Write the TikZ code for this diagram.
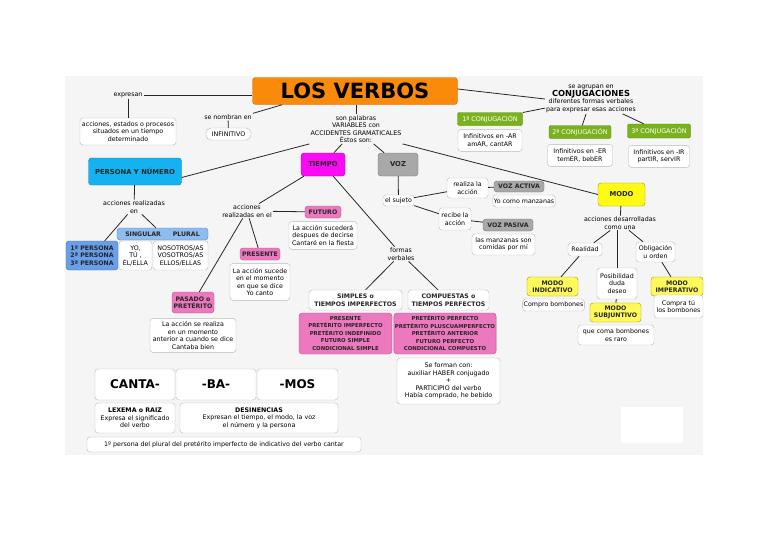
\documentclass[tikz,border=0pt]{standalone}
\usepackage{fontspec}
\setmainfont{DejaVu Sans}
\usepackage{tikz}
\usetikzlibrary{positioning, calc}
\definecolor{panelgray}{RGB}{245,245,245}
\definecolor{verbosorange}{RGB}{250,138,10}
\definecolor{pnblue}{RGB}{20,178,240}
\definecolor{singblue}{RGB}{140,188,240}
\definecolor{perblue}{RGB}{105,158,232}
\definecolor{tiempomag}{RGB}{250,10,245}
\definecolor{vozgray}{RGB}{168,168,168}
\definecolor{tpink}{RGB}{236,120,190}
\definecolor{modoyellow}{RGB}{255,250,20}
\definecolor{subyellow}{RGB}{255,250,90}
\definecolor{conjgreen}{RGB}{122,178,30}

\begin{document}
\begin{tikzpicture}[
    x=1pt, y=-1pt,
    conn/.style={draw=black!85, line width=0.8pt},
    lbl/.style={align=center, inner sep=1pt, font=\fontsize{6.3}{7.5}\selectfont},
    wbox/.style={rectangle, rounded corners=3pt, draw=gray!55, fill=white, align=center, inner sep=1pt, font=\fontsize{6.3}{7.5}\selectfont},
    bwbox/.style={wbox, font=\bfseries\fontsize{6.2}{7.6}\selectfont, text=black!85},
    head/.style={rectangle, rounded corners=3pt, align=center, inner sep=1pt, font=\bfseries\fontsize{6.8}{8}\selectfont, text=black!85},
    titlebox/.style={rectangle, rounded corners=3pt, draw=verbosorange!80!black, fill=verbosorange, font=\bfseries\fontsize{21}{24}\selectfont, minimum width=205, minimum height=27},
    pinkbox/.style={head, draw=tpink!75!black, fill=tpink, font=\bfseries\fontsize{6.2}{7.4}\selectfont},
    listbox/.style={head, draw=tpink!75!black, fill=tpink, font=\bfseries\fontsize{5.4}{7.5}\selectfont, minimum height=41},
    vozsmall/.style={head, draw=vozgray!70!black, fill=vozgray, font=\bfseries\fontsize{6.2}{7.4}\selectfont},
    modosub/.style={head, draw=modoyellow!60!black, fill=subyellow, font=\bfseries\fontsize{6.2}{7.4}\selectfont, minimum height=19},
    conjbox/.style={rectangle, rounded corners=2pt, draw=conjgreen!75!black, fill=conjgreen, text=white, font=\fontsize{6.4}{7.5}\selectfont, inner sep=1pt},
    bigbox/.style={wbox, font=\bfseries\fontsize{12}{14}\selectfont, minimum height=31}
]
    \useasboundingbox (0,0) rectangle (768,543);
    \fill[panelgray] (65,76) rectangle (703,455);
    \fill[white] (621,407) rectangle (683,443);

    % titulo
    \node[titlebox] (verbos) at (355,91) {LOS VERBOS};

    \node[lbl] (expresan) at (128,95) {expresan};
    \node[wbox, minimum width=96, minimum height=27] (acciones) at (128,131.5) {acciones, estados o procesos\\situados en un tiempo\\determinado};
    \draw[conn] (expresan) -- (expresan -| verbos.west);
    \draw[conn] (expresan) -- (acciones);

    \node[lbl] (nombran) at (228,117) {se nombran en};
    \node[wbox, rounded corners=5pt, minimum width=45, minimum height=12] (infinitivo) at (228.5,134) {INFINITIVO};
    \draw[conn] (nombran.north east) -- ([xshift=30pt]verbos.south west);
    \draw[conn] (nombran) -- (infinitivo);

    \node[lbl] (variables) at (356,129) {son palabras\\VARIABLES con\\ACCIDENTES GRAMATICALES\\Éstos son:};
    \draw[conn] (verbos.south -| variables) -- (variables);

    % conjugaciones
    \node[lbl] (conjug) at (591,99) {se agrupan en\\{\bfseries\fontsize{8.3}{9}\selectfont CONJUGACIONES}\\diferentes formas verbales\\para expresar esas acciones};
    \draw[conn] ([yshift=2pt]verbos.east) -- (conjug.west);
    \node[conjbox, minimum width=65, minimum height=13] (conj1) at (490,119) {1ª CONJUGACIÓN};
    \node[conjbox, minimum width=62, minimum height=13] (conj2) at (580,132) {2ª CONJUGACIÓN};
    \node[conjbox, minimum width=63, minimum height=14] (conj3) at (659,131) {3ª CONJUGACIÓN};
    \draw[conn] (conjug) -- (conj1);
    \draw[conn] (conjug) -- (conj2);
    \draw[conn] (conjug) -- (conj3);
    \node[wbox, minimum width=64, minimum height=22, below=3.5pt of conj1] (ar) {Infinitivos en -AR\\amAR, cantAR};
    \node[wbox, minimum width=65, minimum height=22, below=5.5pt of conj2] (er) {Infinitivos en -ER\\temER, bebER};
    \node[wbox, minimum width=61, minimum height=22, below=7pt of conj3] (ir) {Infinitivos en -IR\\partIR, servIR};

    % persona y numero
    \node[head, draw=pnblue!75!black, fill=pnblue, minimum width=93, minimum height=27] (persona) at (135,171.5) {PERSONA Y NÚMERO};
    \draw[conn] (variables.south west) -- ([yshift=-6pt]persona.east);
    \node[lbl] (realizadas) at (134,207) {acciones realizadas\\en};
    \draw[conn] (persona) -- (realizadas);
    \node[head, draw=singblue!70!black, fill=singblue, font=\bfseries\fontsize{6.2}{7.4}\selectfont, minimum width=91, minimum height=12] (singplur) at (162.5,234) {SINGULAR\hspace{12pt}PLURAL};
    \node[head, draw=perblue!70!black, fill=perblue, font=\bfseries\fontsize{6.2}{7.6}\selectfont, minimum width=52, minimum height=29] (personas) at (92,255.5) {1ª PERSONA\\2ª PERSONA\\3ª PERSONA};
    \node[wbox, minimum width=33, minimum height=29] (yo) at (135.5,255.5) {YO,\\TÚ ,\\ÉL/ELLA};
    \node[wbox, minimum width=55, minimum height=29] (nosotros) at (180.5,255.5) {NOSOTROS/AS\\VOSOTROS/AS\\ELLOS/ELLAS};
    \draw[conn] (realizadas) -- (personas);
    \draw[conn] (realizadas) -- (singplur);

    % tiempo
    \node[head, draw=tiempomag!70!black, fill=tiempomag, minimum width=44, minimum height=23] (tiempo) at (323,164.5) {TIEMPO};
    \draw[conn] (variables) -- (tiempo);
    \node[lbl] (realizadasel) at (247,211) {acciones\\realizadas en el};
    \draw[conn] (tiempo) -- (realizadasel);
    \node[pinkbox, minimum width=36, minimum height=12] (futuro) at (323,212) {FUTURO};
    \node[wbox, minimum width=68, minimum height=28, below=3pt of futuro] (futurotxt) {La acción sucederá\\despues de decirse\\Cantaré en la fiesta};
    \node[pinkbox, minimum width=40, minimum height=12] (presente) at (260,254) {PRESENTE};
    \node[wbox, minimum width=60, minimum height=37, below=3pt of presente] (presentetxt) {La acción sucede\\en el momento\\en que se dice\\Yo canto};
    \node[pinkbox, minimum width=42, minimum height=21] (pasado) at (193,302.5) {PASADO o\\PRETÉRITO};
    \node[wbox, minimum width=86, minimum height=34, below=5pt of pasado] (pasadotxt) {La acción se realiza\\en un momento\\anterior a cuando se dice\\Cantaba bien};
    \draw[conn] (realizadasel) -- (futuro);
    \draw[conn] (realizadasel) -- (presente);
    \draw[conn] (realizadasel) -- (pasado);

    \node[lbl] (formas) at (401,254) {formas\\verbales};
    \draw[conn] (tiempo) -- (formas);
    \node[bwbox, minimum width=93, minimum height=20] (simples) at (355.5,300) {SIMPLES o\\TIEMPOS IMPERFECTOS};
    \node[bwbox, minimum width=81, minimum height=20] (compuestas) at (448.5,300) {COMPUESTAS o\\TIEMPOS PERFECTOS};
    \draw[conn] (formas) -- (simples);
    \draw[conn] (formas) -- (compuestas);
    \node[listbox, minimum width=93] (simpleslist) at (345.5,333.5) {PRESENTE\\PRETÉRITO IMPERFECTO\\PRETÉRITO INDEFINIDO\\FUTURO SIMPLE\\CONDICIONAL SIMPLE};
    \node[listbox, minimum width=94] (compuestaslist) at (445,333.5) {PRETÉRITO PERFECTO\\PRETÉRITO PLUSCUAMPERFECTO\\PRETÉRITO ANTERIOR\\FUTURO PERFECTO\\CONDICIONAL COMPUESTO};
    \node[wbox, minimum width=103, minimum height=46] (haber) at (448.5,381) {Se forman con:\\auxiliar HABER conjugado\\+\\PARTICIPIO del verbo\\Había comprado, he bebido};

    % voz
    \node[head, draw=vozgray!70!black, fill=vozgray, minimum width=40, minimum height=23] (voz) at (398,164.5) {VOZ};
    \draw[conn] (variables) -- (voz);
    \node[wbox, minimum width=31, minimum height=11] (sujeto) at (398.5,200.5) {el sujeto};
    \draw[conn] (voz) -- (sujeto);
    \node[wbox, minimum width=41, minimum height=20] (realiza) at (467.5,188) {realiza la\\acción};
    \node[wbox, minimum width=32, minimum height=22] (recibe) at (455,219) {recibe la\\acción};
    \draw[conn] (sujeto) -- (realiza);
    \draw[conn] (sujeto) -- (recibe);
    \node[vozsmall, minimum width=50, minimum height=11] (activa) at (519,186.5) {VOZ ACTIVA};
    \node[wbox, minimum width=59, minimum height=12] (activatxt) at (524,201) {Yo como manzanas};
    \node[vozsmall, minimum width=50, minimum height=12] (pasiva) at (508,225) {VOZ PASIVA};
    \node[wbox, minimum width=63, minimum height=21] (pasivatxt) at (503.5,244.5) {las manzanas son\\comidas por mí};
    \draw[conn] (realiza) -- (activa);
    \draw[conn] (recibe) -- (pasiva);

    % modo
    \node[head, draw=modoyellow!60!black, fill=modoyellow, minimum width=47, minimum height=23] (modo) at (621.5,194.5) {MODO};
    \draw[conn] (variables.south east) -- (modo.west);
    \node[lbl] (desarrolladas) at (620,223) {acciones desarrolladas\\como una};
    \draw[conn] (modo) -- (desarrolladas);
    \node[wbox, minimum width=34, minimum height=13] (realidad) at (585,249.5) {Realidad};
    \node[wbox, minimum width=40, minimum height=31] (posibilidad) at (617,283.5) {Posibilidad\\duda\\deseo};
    \node[wbox, minimum width=39, minimum height=20] (obligacion) at (655.5,252) {Obligación\\u orden};
    \draw[conn] (desarrolladas) -- (realidad);
    \draw[conn] (desarrolladas.south -| posibilidad) -- (posibilidad);
    \draw[conn] (desarrolladas) -- (obligacion);
    \node[modosub, minimum width=51] (indicativo) at (552.5,286.5) {MODO\\INDICATIVO};
    \node[wbox, minimum width=61, minimum height=12] (indicativotxt) at (553.5,305) {Compro bombones};
    \node[modosub, minimum width=51] (subjuntivo) at (615.5,312.5) {MODO\\SUBJUNTIVO};
    \node[wbox, minimum width=76, minimum height=20] (subjuntivotxt) at (616,335) {que coma bombones\\es raro};
    \node[modosub, minimum width=52] (imperativo) at (677,286.5) {MODO\\IMPERATIVO};
    \node[wbox, minimum width=49, minimum height=23] (imperativotxt) at (678.5,306.5) {Compra tú\\los bombones};
    \draw[conn] (realidad) -- (indicativo);
    \draw[conn] (posibilidad) -- (subjuntivo);
    \draw[conn] (obligacion) -- (imperativo);

    % ejemplo cantabamos
    \node[bigbox, minimum width=80] (canta) at (135,384.5) {CANTA-};
    \node[bigbox, minimum width=80] (ba) at (216,384.5) {-BA-};
    \node[bigbox, minimum width=81] (mos) at (297.5,384.5) {-MOS};
    \node[wbox, minimum width=80, minimum height=30] (lexema) at (135,418) {\textbf{LEXEMA o RAIZ}\\Expresa el significado\\del verbo};
    \node[wbox, minimum width=158, minimum height=30] (desinencias) at (259,418) {\textbf{DESINENCIAS}\\Expresan el tiempo, el modo, la voz\\el número y la persona};
    \node[wbox, minimum width=274, minimum height=15] (cantar) at (224,444.5) {1º persona del plural del pretérito imperfecto de indicativo del verbo cantar};
\end{tikzpicture}
\end{document}
